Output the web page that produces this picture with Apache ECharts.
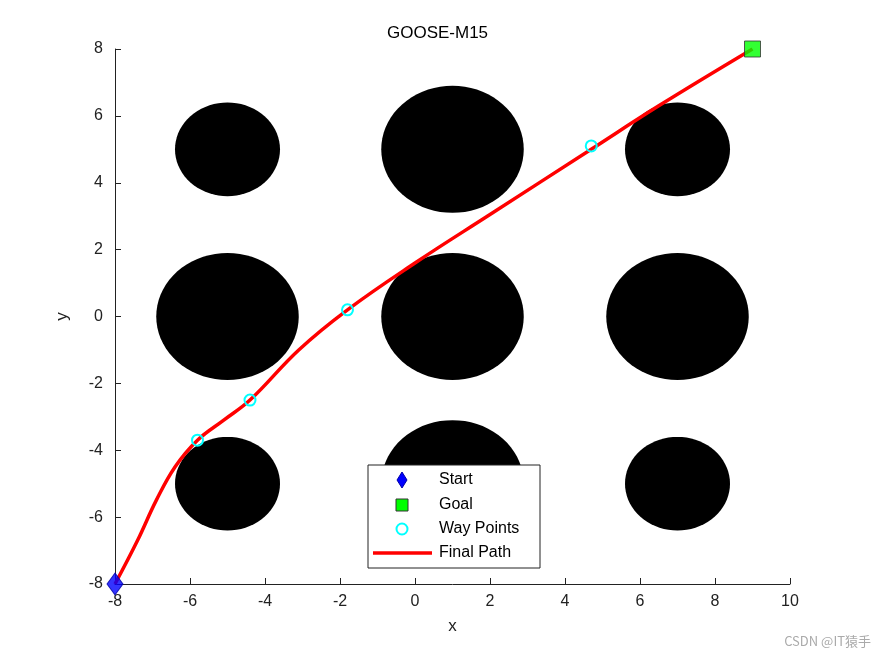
<!DOCTYPE html>
<html><head><meta charset="utf-8">
<script src="https://cdn.jsdelivr.net/npm/echarts@6/dist/echarts.min.js"></script>
<style>html,body{margin:0;background:#fff}#c{width:875px;height:656px}</style>
</head><body><div id="c"></div>
<script>
// obstacles: [cx, cy, r]
var obstacles = [
  [-5, 5, 1.4], [1, 5, 1.9], [7, 5, 1.4],
  [-5, 0, 1.9], [1, 0, 1.9], [7, 0, 1.9],
  [-5, -5, 1.4], [1, -5, 1.9], [7, -5, 1.4]
];
var startPt = [[-8, -8]];
var goalPt = [[9, 8]];
var wayPoints = [[-5.8, -3.7], [-4.4, -2.5], [-1.8, 0.2], [4.7, 5.1]];
var finalPath = [[-8, -8], [-7.4, -6.7], [-6.9, -5.5], [-6.4, -4.5], [-5.8, -3.7], [-5.1, -3.1],
  [-4.4, -2.5], [-3.1, -1.0], [-1.8, 0.2], [0, 1.6], [2, 3.05], [4.7, 5.0], [6.5, 6.3], [9, 8]];
var legendNames = ['Start', 'Goal', 'Way Points', 'Final Path'];
var xTicks = [-8, 10, 2];
var yTicks = [-8, 8, 2];

var chart = echarts.init(document.getElementById('c'));
var font = 'Arial, Liberation Sans, sans-serif';

// legend drawn by hand (MATLAB style)
var lx = 368, ly = 465, rows = [480, 505, 529, 553];
var legendGfx = [{ type: 'rect', shape: { x: lx, y: ly, width: 172, height: 103 }, style: { fill: '#fff', stroke: '#222', lineWidth: 1 }, z: 100 }];
legendGfx.push({ type: 'polygon', shape: { points: [[402, rows[0] - 8], [407, rows[0]], [402, rows[0] + 8], [397, rows[0]]] }, style: { fill: '#0000ff', stroke: '#0000aa' }, z: 101 });
legendGfx.push({ type: 'rect', shape: { x: 396, y: rows[1] - 6, width: 12, height: 12 }, style: { fill: '#00ff00', stroke: '#333' }, z: 101 });
legendGfx.push({ type: 'circle', shape: { cx: 402, cy: rows[2], r: 5.5 }, style: { fill: 'none', stroke: '#00ffff', lineWidth: 2 }, z: 101 });
legendGfx.push({ type: 'line', shape: { x1: 373, y1: rows[3], x2: 432, y2: rows[3] }, style: { stroke: '#f00', lineWidth: 3.5 }, z: 101 });
legendNames.forEach(function (n, i) {
  legendGfx.push({ type: 'text', x: 439, y: rows[i], style: { text: n, fontSize: 16, fill: '#000', fontFamily: font, verticalAlign: 'middle' }, z: 101 });
});
legendGfx.push({ type: 'text', right: 4, bottom: 8, style: { text: 'CSDN @IT猿手', fontSize: 13, fill: '#aaa', fontFamily: 'Noto Sans CJK SC' } });

chart.setOption({
  animation: false,
  title: { text: 'GOOSE-M15', left: 'center', top: 20, textStyle: { fontSize: 17, fontWeight: 'normal', color: '#000', fontFamily: font } },
  grid: { left: 115, right: 85, top: 49, bottom: 72 },
  xAxis: { type: 'value', min: xTicks[0], max: xTicks[1], interval: xTicks[2], name: 'x', nameLocation: 'middle', nameGap: 34,
    nameTextStyle: { fontSize: 17, color: '#222', fontFamily: font },
    axisLine: { onZero: false, lineStyle: { color: '#222' } }, axisTick: { inside: true, length: 6, lineStyle: { color: '#222' } },
    axisLabel: { fontSize: 16, color: '#222', fontFamily: font, margin: 10 }, splitLine: { show: false } },
  yAxis: { type: 'value', min: yTicks[0], max: yTicks[1], interval: yTicks[2], name: 'y', nameLocation: 'middle', nameGap: 44,
    nameTextStyle: { fontSize: 17, color: '#222', fontFamily: font },
    axisLine: { show: true, onZero: false, lineStyle: { color: '#222' } }, axisTick: { show: true, inside: true, length: 6, lineStyle: { color: '#222' } },
    axisLabel: { fontSize: 16, color: '#222', fontFamily: font, margin: 12 }, splitLine: { show: false } },
  graphic: legendGfx,
  series: [
    { type: 'custom', data: obstacles, silent: true, z: 1,
      renderItem: function (params, api) {
        var cx = api.value(0), cy = api.value(1), r = api.value(2), pts = [];
        for (var i = 0; i < 72; i++) {
          var a = i / 72 * Math.PI * 2;
          pts.push(api.coord([cx + r * Math.cos(a), cy + r * Math.sin(a)]));
        }
        return { type: 'polygon', shape: { points: pts }, style: { fill: '#000' } };
      } },
    { name: 'Final Path', type: 'line', data: finalPath, smooth: 0.4, symbol: 'none', z: 3,
      lineStyle: { color: '#f00', width: 3.5 } },
    { name: 'Way Points', type: 'custom', data: wayPoints, z: 6,
      renderItem: function (params, api) {
        var p = api.coord([api.value(0), api.value(1)]);
        return { type: 'circle', shape: { cx: p[0], cy: p[1], r: 5.5 }, style: { fill: 'none', stroke: '#00ffff', lineWidth: 2 } };
      } },
    { name: 'Start', type: 'scatter', data: startPt, symbol: 'diamond', symbolSize: [16, 22], z: 7,
      itemStyle: { color: '#0000ff', borderColor: '#0000aa', borderWidth: 1 } },
    { name: 'Goal', type: 'scatter', data: goalPt, symbol: 'rect', symbolSize: 16, z: 7,
      itemStyle: { color: '#00ff00', borderColor: '#333', borderWidth: 1 } }
  ]
});
</script></body></html>
